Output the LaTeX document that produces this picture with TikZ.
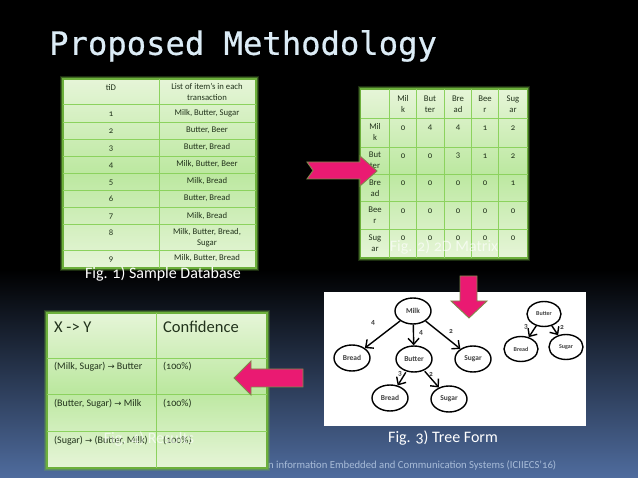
\documentclass[tikz,border=0pt]{standalone}
\usepackage{fontspec}
\setmainfont[Numbers=OldStyle]{Carlito}
\newfontfamily\titlefont[FakeBold=0.6]{DejaVu Sans Mono}
\newfontfamily\arrowfont{DejaVu Sans}
\usetikzlibrary{arrows.meta,shapes.geometric}
\definecolor{tlight}{HTML}{E6F5D8}
\definecolor{tmid}{HTML}{BCE8A0}
\definecolor{tborder}{HTML}{6DB03C}
\definecolor{tgrid}{HTML}{8CD25E}
\definecolor{ttext}{HTML}{22331C}
\definecolor{pinkfill}{HTML}{EA1A72}
\definecolor{pinkedge}{HTML}{7F8A4A}
\definecolor{bgblue}{HTML}{4F6C9E}
\definecolor{titlecol}{HTML}{DCECF6}
\definecolor{footcol}{HTML}{A8BCD8}
\newcommand{\tabbox}[4]{%
  \draw[tborder,opacity=0.25,line width=5.5pt] (#1,#2) rectangle (#3,#4);
  \draw[tborder,opacity=0.45,line width=3.5pt] (#1,#2) rectangle (#3,#4);
  \path[top color=tlight,bottom color=tlight,middle color=tmid] (#1,#2) rectangle (#3,#4);
  \draw[tborder,line width=1.6pt] (#1,#2) rectangle (#3,#4);}
\newcommand{\arrowfig}{{\arrowfont\fontsize{8.5}{10}\selectfont →}}
\tikzset{
  cell/.style={text=ttext,align=center,inner sep=0pt,font=\fontsize{8.7}{10.6}\selectfont},
  cellb/.style={text=ttext,anchor=west,inner sep=0pt,font=\fontsize{10}{12}\selectfont},
  head/.style={text=ttext,anchor=west,inner sep=0pt,font=\fontsize{16.5}{18}\selectfont},
  grid line/.style={tgrid,line width=0.9pt},
  caption/.style={text=white,inner sep=0pt,font=\fontsize{16}{18}\selectfont},
  ghost/.style={text=white,text opacity=0.65,inner sep=0pt,font=\fontsize{16}{18}\selectfont},
  tree/.style={draw=black,ellipse,line width=1.4pt,minimum width=36pt,minimum height=26pt,inner sep=0pt,font=\bfseries\fontsize{7.5}{9}\selectfont,text=black!75},
  treesm/.style={tree,minimum width=34pt,minimum height=25pt,font=\bfseries\fontsize{6}{7}\selectfont},
  edge/.style={draw=black,line width=1.4pt,-{Straight Barb[length=6pt,width=11pt]}},
  elabel/.style={inner sep=0pt,text=black!75,font=\bfseries\fontsize{7.5}{8}\selectfont},
  pinkarrow/.style={fill=pinkfill,draw=pinkedge,line width=0.9pt,line join=miter}
}
\begin{document}
\begin{tikzpicture}[x=1pt,y=-1pt]
\useasboundingbox (0,0) rectangle (638,478);
\fill[black] (0,0) rectangle (638,478);
\shade[top color=black,bottom color=bgblue] (0,270) rectangle (638,478);

\node[anchor=west,inner sep=0pt,text=titlecol,font=\titlefont\fontsize{32.2}{36}\selectfont] (title) at (49,46) {Proposed Methodology};

% Table 1
\tabbox{63}{79}{256}{268}
\draw[grid line] (159,79) -- (159,268);
\foreach \yy in {104.5,122,139,156,173,190,207,224,250.5} \draw[grid line] (63,\yy) -- (256,\yy);
\foreach \nm/\yy/\tx in {a0/88/tiD,a1/114/1,a2/131/2,a3/149/3,a4/166/4,a5/183/5,a6/199/6,a7/217/7,a8/233/8,a9/260/9}
  \node[cell] (\nm) at (111,\yy) {\tx};
\node[cell] (b0) at (207,92) {List of item’s in each\\transaction};
\foreach \nm/\yy/\tx in {b1/113/{Milk, Butter, Sugar},b2/130/{Butter, Beer},b3/147/{Butter, Bread},b4/164/{Milk, Butter, Beer},b5/181/{Milk, Bread},b6/198/{Butter, Bread},b7/216/{Milk, Bread}}
  \node[cell] (\nm) at (207,\yy) {\tx};
\node[cell] (b8) at (207,238) {Milk, Butter, Bread,\\Sugar};
\node[cell] (b9) at (207,258) {Milk, Butter, Bread};
\node[caption] (cap1) at (163,274) {Fig. 1) Sample Database};

% Table 2
\tabbox{360.5}{89}{527.5}{258}
\foreach \xx in {389,416.5,444,471.5,498.5} \draw[grid line] (\xx,89) -- (\xx,258);
\foreach \yy in {118,147,174,201.5,229} \draw[grid line] (360.5,\yy) -- (527.5,\yy);
\foreach \nm/\xx/\tx in {h1/403/{Mil\\k},h2/430/{But\\ter},h3/458/{Bre\\ad},h4/485/{Bee\\r},h5/513/{Sug\\ar}}
  \node[cell] (\nm) at (\xx,104) {\tx};
\foreach \nm/\yy/\tx in {r1/132/{Mil\\k},r2/160/{But\\ter},r3/188/{Bre\\ad},r4/215/{Bee\\r},r5/243/{Sug\\ar}}
  \node[cell] (\nm) at (375,\yy) {\tx};
\foreach \nm/\yy/\va/\vb/\vc/\vd/\ve in {v1/128/0/4/4/1/2,v2/156/0/0/3/1/2,v3/183/0/0/0/0/1,v4/211/0/0/0/0/0,v5/238/0/0/0/0/0}{
  \node[cell] (\nm a) at (403,\yy) {\va};
  \node[cell] (\nm b) at (430,\yy) {\vb};
  \node[cell] (\nm c) at (458,\yy) {\vc};
  \node[cell] (\nm d) at (485,\yy) {\vd};
  \node[cell] (\nm e) at (513,\yy) {\ve};
}
\node[ghost] (cap2) at (444,247) {Fig. 2) 2D Matrix};

% Tree picture
\fill[white] (324,292) rectangle (586,426);
\node[tree] (milk) at (413,311) {Milk};
\node[tree] (bread1) at (352,358) {Bread};
\node[tree] (butter1) at (414,359) {Butter};
\node[tree] (sugar1) at (473,359) {Sugar};
\node[tree] (bread2) at (390,398) {Bread};
\node[tree] (sugar2) at (449,399) {Sugar};
\node[treesm] (butter2) at (544,314) {Butter};
\node[treesm] (bread3) at (521,349) {Bread};
\node[treesm] (sugar3) at (566,347) {Sugar};
\draw[edge] (milk) -- (bread1);
\draw[edge] (milk) -- (butter1);
\draw[edge] (milk) -- (sugar1);
\draw[edge,shorten <=1pt] (butter1) -- (bread2);
\draw[edge,shorten <=1pt] (butter1) -- (sugar2);
\draw[edge] (butter2) -- (bread3);
\draw[edge] (butter2) -- (sugar3);
\foreach \nm/\xx/\yy/\tx in {l1/373/323/4,l2/421/333/4,l3/451/331/2,l4/400/374/3,l5/431/374/2,l6/526/327/3,l7/562/327/2}
  \node[elabel] (\nm) at (\xx,\yy) {\tx};
\node[caption] (cap3) at (443,438) {Fig. 3) Tree Form};

% Footer
\node[anchor=west,inner sep=0pt,text=footcol,font=\fontsize{10.7}{12}\selectfont] (foot) at (268,465) {n information Embedded and Communication Systems (ICIIECS’16)};

% Table 4
\tabbox{47}{313}{267}{468}
\draw[grid line] (156.5,313) -- (156.5,468);
\foreach \yy in {358,394.5,431.5} \draw[grid line] (47,\yy) -- (267,\yy);
\node[head] (c0) at (54,327) {X -> Y};
\node[head] (d0) at (163,327) {Confidence};
\node[cellb] (c1) at (54,367) {(Milk, Sugar) \arrowfig{} Butter};
\node[cellb] (d1) at (163,367) {(100\%)};
\node[cellb] (c2) at (54,404) {(Butter, Sugar) \arrowfig{} Milk};
\node[cellb] (d2) at (163,404) {(100\%)};
\node[cellb] (c3) at (54,440.5) {(Sugar) \arrowfig{} (Butter, Milk)};
\node[cellb] (d3) at (163,440.5) {(100\%)};
\node[ghost] (cap4) at (149,439) {Fig. 4) Results};

% Block arrows
\draw[pinkarrow] (307,162) -- (360,162) -- (360,156) -- (377,171) -- (360,186) -- (360,179) -- (307,179) -- (313,170.5) -- cycle;
\draw[pinkarrow] (460,276) -- (477,276) -- (477,301) -- (487,301) -- (469,318) -- (451,301) -- (460,301) -- cycle;
\draw[pinkarrow] (303,369) -- (251,369) -- (251,361) -- (234,378) -- (251,395) -- (251,387) -- (303,387) -- cycle;
\end{tikzpicture}
\end{document}
